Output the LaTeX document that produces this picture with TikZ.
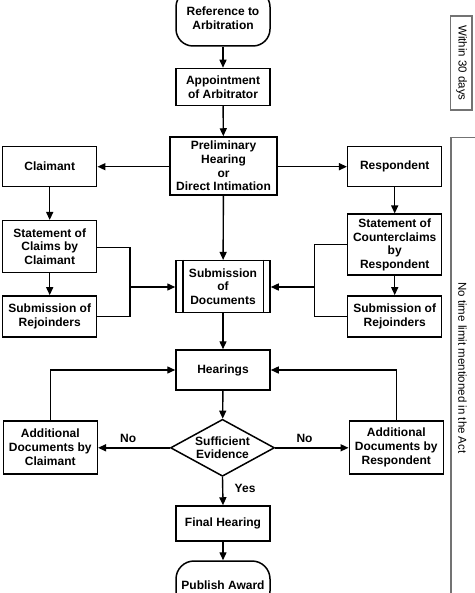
\documentclass[tikz,border=0pt]{standalone}
\usepackage{fontspec}
\setmainfont{Liberation Sans}
\usetikzlibrary{shapes.geometric,arrows.meta}
\begin{document}
\begin{tikzpicture}[x=1pt,y=-1pt,
  box/.style={draw,line width=1.5pt,align=center,inner sep=0pt,font=\fontsize{12}{13.6}\selectfont\bfseries},
  term/.style={box,rounded corners=17pt},
  dec/.style={draw,line width=1.5pt,diamond,aspect=1.85,inner sep=0pt,align=center,minimum width=104pt,minimum height=57pt,font=\fontsize{12}{13.4}\selectfont\bfseries},
  conn/.style={line width=1.4pt},
  arr/.style={conn,-{Triangle[length=8pt,width=7pt]}},
  lbl/.style={font=\fontsize{12}{13.6}\selectfont\bfseries},
  side/.style={draw=black!55,line width=1.3pt},
  sidetext/.style={font=\fontsize{11.5}{13}\selectfont,rotate=-90}
]
\useasboundingbox (0,0) rectangle (474,593);
% nodes
\node[term,minimum width=94pt,minimum height=56pt] (ref) at (223,18) {Reference to\\Arbitration};
\node[box,minimum width=94pt,minimum height=37pt] (appt) at (223,87) {Appointment\\of Arbitrator};
\node[box,minimum width=107pt,minimum height=58pt] (pre) at (223.5,166) {Preliminary\\Hearing\\or\\Direct Intimation};
\node[box,minimum width=94pt,minimum height=40pt] (cla) at (49.7,166.7) {Claimant};
\node[box,minimum width=94pt,minimum height=40pt] (res) at (394.7,166.7) {Respondent};
\node[box,minimum width=94pt,minimum height=52pt] (soc) at (49.7,246.7) {Statement of\\Claims by\\Claimant};
\node[box,minimum width=94pt,minimum height=41pt] (rejL) at (49.7,316.4) {Submission of\\Rejoinders};
\node[box,minimum width=94pt,minimum height=52pt] (sub) at (223,286.7) {Submission\\of\\Documents};
\draw[line width=1.5pt] ([xshift=7.5pt]sub.north west) -- ([xshift=7.5pt]sub.south west);
\draw[line width=1.5pt] ([xshift=-7.5pt]sub.north east) -- ([xshift=-7.5pt]sub.south east);
\node[box,minimum width=94pt,minimum height=61pt] (socR) at (394.7,244.7) {Statement of\\Counterclaims\\by\\Respondent};
\node[box,minimum width=94pt,minimum height=41pt] (rejR) at (394.7,316.4) {Submission of\\Rejoinders};
\node[box,minimum width=94pt,minimum height=40pt] (hear) at (223,370) {Hearings};
\node[dec] (dia) at (222.5,447.8) {Sufficient\\Evidence};
\node[box,minimum width=94pt,minimum height=53pt] (addL) at (50.3,447.3) {Additional\\Documents by\\Claimant};
\node[box,minimum width=94pt,minimum height=53pt] (addR) at (396.3,447.3) {Additional\\Documents by\\Respondent};
\node[box,minimum width=94pt,minimum height=35pt] (fin) at (223,523.5) {Final Hearing};
\node[term,minimum width=94pt,minimum height=48pt,rounded corners=18pt] (pub) at (223,585) {Publish Award};
% connectors
\draw[arr] (ref) -- (appt);
\draw[arr] (appt) -- (pre);
\draw[arr] (pre.west |- cla.east) -- (cla.east);
\draw[arr] (pre.east |- res.west) -- (res.west);
\draw[arr] (cla) -- (soc);
\draw[arr] (soc) -- (rejL);
\draw[arr] (res) -- (socR);
\draw[arr] (socR) -- (rejR);
\draw[arr] (pre) -- (sub);
\coordinate (jL) at (130,287);
\coordinate (jR) at (314.3,287);
\draw[conn] ([yshift=-0.5pt]soc.east) -| (jL);
\draw[conn] (rejL.east) -| (jL);
\draw[arr] (jL) -- (sub.west |- jL);
\draw[conn] (socR.west) -| (jR);
\draw[conn] (rejR.west) -| (jR);
\draw[arr] (jR) -- (sub.east |- jR);
\draw[arr] (sub) -- (hear);
\draw[arr] (hear) -- (dia);
\draw[arr] (dia.west) -- node[lbl,above=1pt,pos=0.58] {No} (addL.east |- dia.west);
\draw[arr] (dia.east) -- node[lbl,above=1pt,pos=0.4] {No} (addR.west |- dia.east);
\draw[arr] (addL.north) |- (hear.west);
\draw[arr] (addR.north) |- (hear.east);
\draw[arr] (dia.south) -- node[lbl,right=8pt,pos=0.4] {Yes} (fin.north);
\draw[arr] (fin) -- (pub);
% side notes
\draw[side] (450.7,16) rectangle (472,110);
\node[sidetext] (n30) at (461.5,63) {Within 30 days};
\draw[side] (476,137.3) -- (451,137.3) -- (451,596);
\node[sidetext] (nlim) at (462.5,368) {No time limit mentioned in the Act};
\end{tikzpicture}
\end{document}
